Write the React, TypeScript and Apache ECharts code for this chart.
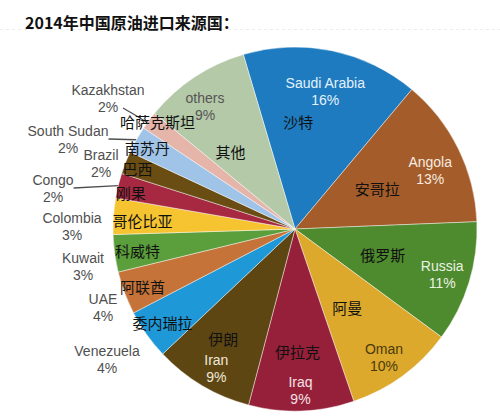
import { useEffect, useRef } from 'react';
import * as echarts from 'echarts';

const titleText = '2014年中国原油进口来源国：';
const countries = ['Saudi Arabia', 'Angola', 'Russia', 'Oman', 'Iraq', 'Iran', 'Venezuela', 'UAE', 'Kuwait', 'Colombia', 'Congo', 'Brazil', 'South Sudan', 'Kazakhstan', 'others'];
const chineseNames = ['沙特', '安哥拉', '俄罗斯', '阿曼', '伊拉克', '伊朗', '委内瑞拉', '阿联酋', '科威特', '哥伦比亚', '刚果', '巴西', '南苏丹', '哈萨克斯坦', '其他'];
const shares = [15.6, 13.2, 10.7, 9.6, 9.3, 8.8, 4.4, 3.8, 3.3, 3.2, 2.2, 2.0, 2.4, 1.6, 9.4];
const sliceColors = ['#1e7bbf', '#a45c2a', '#4e8a2e', '#dca92c', '#962039', '#5e4613', '#1e98d6', '#c57338', '#5b9e3c', '#f6c431', '#a62841', '#6a4d12', '#a0c4e8', '#e6b5aa', '#b4c9a8'];

// label styling / placement helpers (not data)
const EN_INSIDE_COLOR: Record<string, string> = {
  'Saudi Arabia': '#e4f1fb', Angola: '#f6ebe0', Russia: '#eaf2e2', Oman: '#4a3a0c', Iraq: '#f4e2e6', Iran: '#efe9da', others: '#555555',
};
const EN_NUDGE: Record<string, [number, number]> = {
  'Saudi Arabia': [-1, 13], Angola: [-3, 9], Oman: [-2, 4], Iraq: [0, 8], Iran: [0, 7], others: [-5, 6],
};
const ZH_TIER_A = ['Saudi Arabia', 'Angola', 'Russia', 'Oman', 'others'];
const ZH_TIER_B = ['Iraq', 'Iran'];
const ZH_TIER_C = ['Venezuela', 'UAE', 'Kuwait', 'Colombia', 'Congo', 'Brazil', 'South Sudan', 'Kazakhstan'];
const ZH_NUDGE: Record<string, [number, number]> = {
  'Saudi Arabia': [-16, -14], Angola: [-3, 1], Russia: [-3, -2], Oman: [-4, 2], others: [-12, 2],
  Iraq: [-2, -4], Iran: [-7, 0],
  Venezuela: [2, -2], UAE: [2, 0], Kuwait: [6, -1], Colombia: [12, 3], Congo: [-4, 3], Brazil: [-4, 0], 'South Sudan': [-4, -1], Kazakhstan: [-5, -9],
};
const OUTER_AT: Record<string, [number, number]> = {
  Kazakhstan: [108, 98], 'South Sudan': [68, 139], Brazil: [101, 163], Congo: [53, 188],
  Colombia: [72, 226], Kuwait: [83, 266], UAE: [103, 307], Venezuela: [107, 359],
};
const OUTER_LINE = ['Kazakhstan', 'South Sudan', 'Congo'];
const KAZ_GUIDE = [[148, 123], [135, 115], [123, 108]];

export default function App() {
  const ref = useRef<HTMLDivElement>(null);
  useEffect(() => {
    const el = ref.current;
    if (!el) return;
    const chart = echarts.init(el, null, { renderer: 'svg' });
    const center = [295, 229];
    const startAngle = 106.5;
    const enFont = '"Liberation Sans", Arial, Helvetica, sans-serif';
    const zhFont = '"Noto Sans CJK SC", sans-serif';

    const ghostBase: any = {
      type: 'pie', center, startAngle, clockwise: true, silent: true,
      avoidLabelOverlap: false, emphasis: { disabled: true }, labelLine: { show: false },
      itemStyle: { color: 'rgba(0,0,0,0)', borderWidth: 0 },
    };

    const zhSeries = (tier: string[], radius: number) => ({
      ...ghostBase,
      radius,
      label: {
        show: true, position: 'inside', color: '#111', fontSize: 15, fontFamily: zhFont,
        formatter: (p: any) => chineseNames[p.dataIndex],
      },
      labelLayout: (p: any) => {
        const n = ZH_NUDGE[countries[p.dataIndex]];
        return n ? { dx: n[0], dy: n[1] } : {};
      },
      data: countries.map((name, i) => ({ name, value: shares[i], label: { show: tier.includes(name) } })),
    });

    const enSeries = {
      ...ghostBase,
      radius: 302,
      label: {
        show: true, position: 'inside', fontSize: 14, lineHeight: 17, fontFamily: enFont,
        formatter: (p: any) => `${p.name}\n${Math.round(p.value)}%`,
      },
      labelLayout: (p: any) => {
        const n = EN_NUDGE[countries[p.dataIndex]];
        return n ? { dx: n[0], dy: n[1] } : {};
      },
      data: countries.map((name, i) => ({
        name, value: shares[i],
        label: { show: name in EN_INSIDE_COLOR, color: EN_INSIDE_COLOR[name] || '#fff' },
      })),
    };

    const mainSeries = {
      type: 'pie', center, radius: 182, startAngle, clockwise: true, silent: true,
      avoidLabelOverlap: false, emphasis: { disabled: true },
      itemStyle: { borderColor: 'rgba(255,255,255,0.55)', borderWidth: 0.8 },
      label: {
        show: false, position: 'outside', color: '#4f4f4f', fontSize: 14, lineHeight: 17, fontFamily: enFont,
        formatter: (p: any) => `${p.name}\n${Math.round(p.value)}%`,
      },
      labelLine: { show: false, length: 12, length2: 0, lineStyle: { color: '#4f4f4f', width: 1.3 } },
      labelLayout: (p: any) => {
        const name = countries[p.dataIndex];
        const at = OUTER_AT[name];
        if (!at) return {};
        const opt: any = { x: at[0], y: at[1], align: 'center', verticalAlign: 'middle' };
        if (name === 'Kazakhstan') opt.labelLinePoints = KAZ_GUIDE;
        return opt;
      },
      data: countries.map((name, i) => ({
        name, value: shares[i],
        itemStyle: { color: sliceColors[i] },
        label: { show: name in OUTER_AT },
        labelLine: { show: OUTER_LINE.includes(name) },
      })),
    };

    chart.setOption({
      animation: false,
      backgroundColor: '#ffffff',
      title: {
        text: titleText, left: 20, top: 9,
        textStyle: { fontSize: 16, fontWeight: 'bold', color: '#111', fontFamily: zhFont },
      },
      graphic: [
        { type: 'line', shape: { x1: 0, y1: 29.5, x2: 500, y2: 29.5 }, style: { stroke: '#ececec', lineWidth: 1, lineDash: [3, 3] }, silent: true },
      ],
      series: [
        mainSeries,
        zhSeries(ZH_TIER_A, 184),
        zhSeries(ZH_TIER_B, 248),
        zhSeries(ZH_TIER_C, 324),
        enSeries,
      ],
    });
    return () => chart.dispose();
  }, []);
  return <div ref={ref} style={{ position: 'fixed', left: 0, top: 0, width: 500, height: 419 }} />;
}
